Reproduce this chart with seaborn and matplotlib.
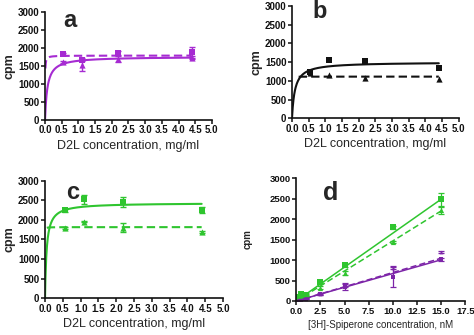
import numpy as np
import pandas as pd
import matplotlib
matplotlib.use("Agg")
import matplotlib.pyplot as plt
import seaborn as sns

sns.set_theme(style="ticks")
plt.rcParams["font.family"] = ["Liberation Sans", "DejaVu Sans"]

PURPLE = "#a62bd2"
PURPLE_D = "#7d25a8"
GREEN = "#2fc52f"
BLACK = "#111111"

# D2L concentration (mg/ml) used in panels a-c
d2l_conc = [0.55, 1.1, 2.2, 4.4]

# panel a
a_sq = [1838, 1674, 1855, 1880]
a_sq_err = [30, 40, 60, 150]
a_tri = [1610, 1520, 1700, 1730]
a_tri_err = [30, 160, 90, 40]
a_fit_solid = (1760, 0.07)      # Bmax, Kd
a_fit_dash = (1790, 0.003)

# panel b
b_sq = [1247, 1560, 1540, 1337]
b_tri = [1220, 1158, 1070, 1042]
b_fit_solid = (1500, 0.09)
b_fit_dash = (1113, 0.0005)

# panel c
c_sq = [2245, 2518, 2450, 2253]
c_sq_err = [40, 120, 120, 70]
c_tri = [1785, 1955, 1800, 1685]
c_tri_err = [20, 20, 110, 20]
c_fit_solid = (2430, 0.045)
c_fit_dash = (1812, 0.0005)

# panel d: [3H]-spiperone (nM)
spip_conc = [0.1, 0.25, 0.5, 1.0, 2.5, 5.0, 10.0, 15.0]
d_green_sq = [40, 100, 170, 150, 463, 870, 1800, 2480]
d_green_sq_err = [10, 20, 25, 20, 30, 40, 40, 160]
d_green_tri = [30, 80, 120, 130, 325, 683, 1446, 2212]
d_green_tri_err = [10, 15, 20, 15, 40, 60, 30, 90]
d_purple_sq = [10, 20, 40, 60, 170, 350, 580, 1017]
d_purple_sq_err = [5, 5, 10, 10, 30, 80, 240, 40]
d_purple_tri = [10, 20, 35, 55, 160, 370, 812, 1200]
d_purple_tri_err = [5, 5, 10, 10, 20, 40, 40, 30]
d_slopes = {"green_solid": 165.5, "green_dash": 146.5,
            "purple_solid": 67.0, "purple_dash": 69.5}


def hyperbola(params, x):
    bmax, kd = params
    return bmax * x / (kd + x)


def style_axes(ax, xmax, xstep, tick_fs, xlabel, label_fs, cpm_fs, letter,
               letter_xy, letter_fs, cpm_pad):
    sns.despine(ax=ax)
    for s in ("left", "bottom"):
        ax.spines[s].set_linewidth(1.2)
        ax.spines[s].set_color(BLACK)
    ax.set_xlim(0, xmax)
    ax.set_ylim(0, 3000)
    xt = np.arange(0, xmax + 1e-9, xstep)
    ax.set_xticks(xt)
    ax.set_yticks(np.arange(0, 3001, 500))
    ax.set_xticklabels([f"{v:.1f}" for v in xt], fontsize=tick_fs, fontweight="bold")
    ax.set_yticklabels([str(v) for v in range(0, 3001, 500)],
                       fontsize=tick_fs, fontweight="bold")
    ax.tick_params(length=3, width=1.1, pad=1, colors=BLACK)
    ax.set_xlabel(xlabel, fontsize=label_fs, labelpad=3)
    ax.set_ylabel("cpm", fontsize=cpm_fs, fontweight="bold", labelpad=cpm_pad)
    ax.text(letter_xy[0], letter_xy[1], letter, transform=ax.transAxes,
            fontsize=letter_fs, fontweight="bold", va="center", ha="left")


def hyper_panel(ax, color, sq, sq_err, tri, tri_err, fit_solid, fit_dash,
                dash_start, letter, letter_xy):
    xs = np.linspace(0.0, max(d2l_conc), 400)
    xd = np.linspace(dash_start, max(d2l_conc), 400)
    curves = pd.concat([
        pd.DataFrame({"x": xs, "y": hyperbola(fit_solid, xs), "fit": "solid"}),
        pd.DataFrame({"x": xd, "y": hyperbola(fit_dash, xd), "fit": "dash"}),
    ])
    sns.lineplot(data=curves, x="x", y="y", style="fit",
                 dashes={"solid": "", "dash": (4, 2)}, color=color,
                 linewidth=1.5, legend=False, ax=ax, sort=False, estimator=None)
    for ys, errs, mk in ((sq, sq_err, "s"), (tri, tri_err, "^")):
        if errs is not None:
            ax.errorbar(d2l_conc, ys, yerr=errs, fmt="none", ecolor=color,
                        elinewidth=1, capsize=2.5, capthick=1)
        sns.scatterplot(x=d2l_conc, y=ys, marker=mk, color=color, s=20,
                        linewidth=0, ax=ax, legend=False)
    style_axes(ax, 5.0, 0.5, 7.0, "D2L concentration, mg/ml", 9.0, 9.0,
               letter, letter_xy, 17, 2)


fig = plt.figure(figsize=(4.74, 3.35), dpi=100)
ax_a = fig.add_axes([0.095, 0.642, 0.352, 0.322])
ax_b = fig.add_axes([0.616, 0.647, 0.352, 0.335])
ax_c = fig.add_axes([0.095, 0.110, 0.3755, 0.351])
ax_d = fig.add_axes([0.625, 0.1015, 0.3565, 0.367])

hyper_panel(ax_a, PURPLE, a_sq, a_sq_err, a_tri, a_tri_err,
            a_fit_solid, a_fit_dash, 0.012, "a", (0.11, 0.92))
hyper_panel(ax_b, BLACK, b_sq, None, b_tri, None,
            b_fit_solid, b_fit_dash, 0.2, "b", (0.12, 0.95))
hyper_panel(ax_c, GREEN, c_sq, c_sq_err, c_tri, c_tri_err,
            c_fit_solid, c_fit_dash, 0.05, "c", (0.12, 0.9))

# panel d: straight-line fits through the origin
xl = np.array([0.0, max(spip_conc)])
line_specs = [
    ("green_solid", GREEN, ""), ("green_dash", GREEN, (4, 2)),
    ("purple_solid", PURPLE_D, ""), ("purple_dash", PURPLE_D, (4, 2)),
]
for key, col, dsh in line_specs:
    ln = sns.lineplot(x=xl, y=d_slopes[key] * xl, color=col, linewidth=1.1, ax=ax_d)
    if dsh:
        ln.lines[-1].set_dashes(dsh)
for ys, errs, col, mk, sz in (
        (d_green_sq, d_green_sq_err, GREEN, "s", 14),
        (d_green_tri, d_green_tri_err, GREEN, "^", 14),
        (d_purple_sq, d_purple_sq_err, PURPLE_D, "s", 7),
        (d_purple_tri, d_purple_tri_err, PURPLE_D, "^", 7)):
    ax_d.errorbar(spip_conc, ys, yerr=errs, fmt="none", ecolor=col,
                  elinewidth=0.9, capsize=2, capthick=0.9)
    sns.scatterplot(x=spip_conc, y=ys, marker=mk, color=col, s=sz,
                    linewidth=0, ax=ax_d, legend=False)
style_axes(ax_d, 17.5, 2.5, 6.8, "[3H]-Spiperone concentration, nM", 7.0, 7.0,
           "d", (0.16, 0.88), 18, 12)

fig.savefig("out.png", dpi=100)
